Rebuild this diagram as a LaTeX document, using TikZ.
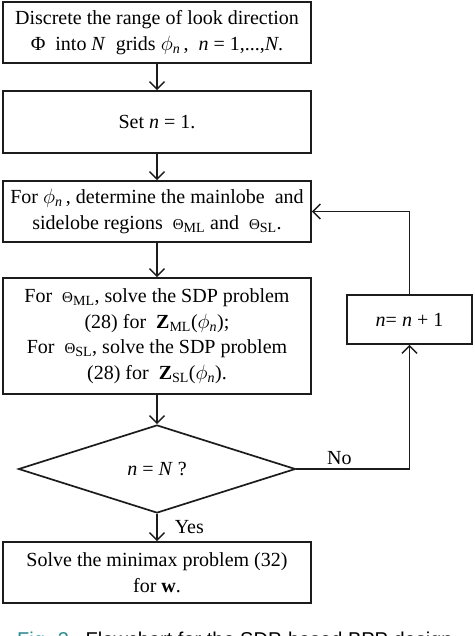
\documentclass[tikz,border=0pt]{standalone}
\usepackage{fontspec}
\setmainfont{Liberation Serif}
\newfontfamily\captionfont{Liberation Sans}
\usetikzlibrary{arrows.meta,positioning,shapes.geometric}
\definecolor{ink}{HTML}{1C1C1C}
\definecolor{figteal}{HTML}{2A8A8C}
\newcommand{\region}[1]{{\fontsize{15}{15}\selectfont Θ}\textsubscript{#1}}
\newcommand{\phin}{$\phi$\textsubscript{\textit{n}}}

\begin{document}
\begin{tikzpicture}[
  x=1pt, y=-1pt,
  font=\fontsize{20}{25.5}\selectfont,
  flow/.style={-{Straight Barb[length=7.5pt,width=15pt,line width=1.5pt]}, line width=1.5pt, draw=ink},
  stepbox/.style={draw=ink, line width=1.7pt, fill=white, align=center,
                  minimum width=308pt, inner sep=0pt},
  decision/.style={diamond, draw=ink, line width=1.7pt, align=center,
                   minimum width=277pt, minimum height=88pt, inner sep=0pt, aspect=3.15},
  annotation/.style={inner sep=2pt}
]
\useasboundingbox (0,0) rectangle (474,636);

% main column
\node[stepbox, minimum height=61pt] (discrete) at (157,32.5)
  {Discrete the range of look direction\\[1pt]
   Φ\ \ into \textit{N}\ \ grids \phin\,,\ \ \textit{n} = 1,...,\textit{N}.};
\node[stepbox, minimum height=62pt] (setn) at (157,122)
  {Set \textit{n} = 1.};
\node[stepbox, minimum height=61pt] (regions) at (157,211.5)
  {For \phin\,, determine the mainlobe\ \ and\\
   sidelobe regions\ \ \region{ML} and\ \ \region{SL}.};
\node[stepbox, minimum height=116pt] (solve) at (157,336)
  {For\ \ \region{ML}, solve the SDP problem\\
   (28) for\ \ \textbf{Z}\textsubscript{ML}(\phin);\\
   For\ \ \region{SL}, solve the SDP problem\\
   (28) for\ \ \textbf{Z}\textsubscript{SL}(\phin).};
\node[decision] (check) at (157,469) {\textit{n} = \textit{N} ?};
\node[stepbox, minimum height=61pt] (final) at (157,572.5)
  {Solve the minimax problem (32)\\ for \textbf{w}.};

% loop back
\node[stepbox, minimum width=125pt, minimum height=49pt] (incr) at (409.5,319.5)
  {\textit{n}= \textit{n} + 1};

\draw[flow] (discrete) -- (setn);
\draw[flow] (setn) -- (regions);
\draw[flow] (regions) -- (solve);
\draw[flow] (solve) -- (check);
\draw[flow] (check) -- node[annotation, right, xshift=15pt] {Yes} (final);
\draw[flow] (check.east) -| node[annotation, pos=0.19, above, yshift=2pt] {No} (incr.south);
\draw[flow] (incr.north) |- (regions.east);

% caption, cut by the page edge
\node[anchor=base west, inner sep=0pt, font=\captionfont\fontsize{20}{24}\selectfont] (caption) at (17,646)
  {\textcolor{figteal}{Fig. 3.}\ \ Flowchart for the SDP-based BPP design};

\end{tikzpicture}
\end{document}
